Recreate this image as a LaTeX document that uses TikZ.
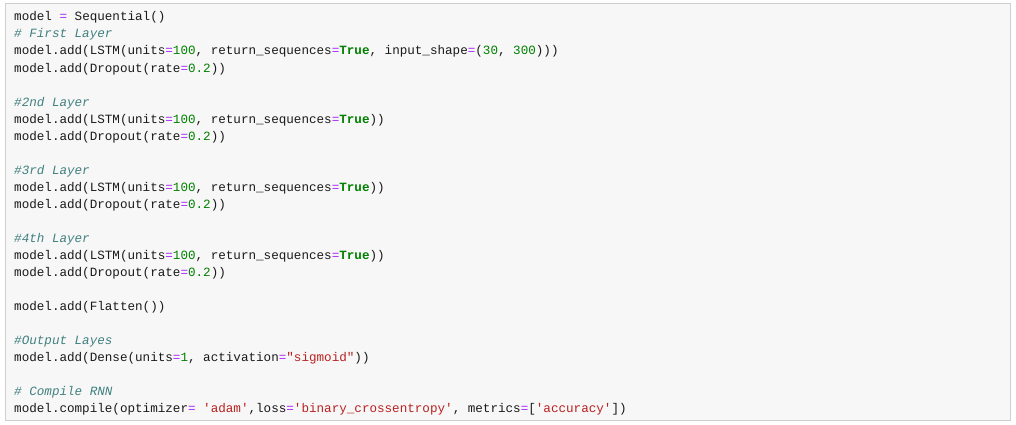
\documentclass[tikz,border=0pt]{standalone}
\usepackage{fontspec}
\newfontfamily\code{Liberation Mono}
\definecolor{cellbg}{HTML}{F7F7F7}
\definecolor{cellbd}{HTML}{CFCFCF}
\definecolor{kwc}{HTML}{008000}
\definecolor{opc}{HTML}{AA22FF}
\definecolor{cmc}{HTML}{408080}
\definecolor{stc}{HTML}{BA2121}
\definecolor{txc}{HTML}{1A1A1A}
\newcommand\kw[1]{\textcolor{kwc}{\bfseries #1}}
\newcommand\nm[1]{\textcolor{kwc}{#1}}
\newcommand\op[1]{\textcolor{opc}{#1}}
\newcommand\cm[1]{\textcolor{cmc}{\itshape #1}}
\newcommand\st[1]{\textcolor{stc}{#1}}
\begin{document}
\begin{tikzpicture}[x=1pt,y=1pt,
  codeline/.style={anchor=base west,inner sep=0pt,font=\code\fontsize{12.6}{17}\selectfont,text=txc}]
\useasboundingbox (0,0) rectangle (1016,424);
\draw[cellbd,fill=cellbg] (5.5,3.5) rectangle (1010.5,420.5);
\def\L#1#2{\node[codeline] (l#1) at (14,{424-21-17*(#1)}) {\strut #2};}
\L{0}{model \op{=} Sequential()}
\L{1}{\cm{\# First Layer}}
\L{2}{model.add(LSTM(units\op{=}\nm{100}, return\_sequences\op{=}\kw{True}, input\_shape\op{=}(\nm{30}, \nm{300})))}
\L{3}{model.add(Dropout(rate\op{=}\nm{0.2}))}
\L{5}{\cm{\#2nd Layer}}
\L{6}{model.add(LSTM(units\op{=}\nm{100}, return\_sequences\op{=}\kw{True}))}
\L{7}{model.add(Dropout(rate\op{=}\nm{0.2}))}
\L{9}{\cm{\#3rd Layer}}
\L{10}{model.add(LSTM(units\op{=}\nm{100}, return\_sequences\op{=}\kw{True}))}
\L{11}{model.add(Dropout(rate\op{=}\nm{0.2}))}
\L{13}{\cm{\#4th Layer}}
\L{14}{model.add(LSTM(units\op{=}\nm{100}, return\_sequences\op{=}\kw{True}))}
\L{15}{model.add(Dropout(rate\op{=}\nm{0.2}))}
\L{17}{model.add(Flatten())}
\L{19}{\cm{\#Output Layes}}
\L{20}{model.add(Dense(units\op{=}\nm{1}, activation\op{=}\st{"sigmoid"}))}
\L{22}{\cm{\# Compile RNN}}
\L{23}{model.compile(optimizer\op{=} \st{'adam'},loss\op{=}\st{'binary\_crossentropy'}, metrics\op{=}[\st{'accuracy'}])}
\end{tikzpicture}
\end{document}
